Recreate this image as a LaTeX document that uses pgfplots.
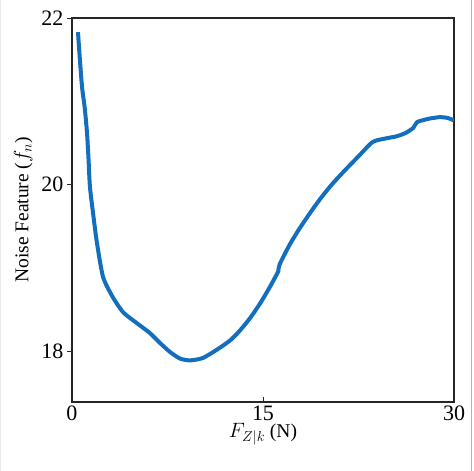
\documentclass[border=0pt]{standalone}
\usepackage{fontspec}
\setmainfont{Liberation Serif}
\usepackage{pgfplots}
\pgfplotsset{compat=1.18}
\definecolor{curveblue}{RGB}{20,110,190}
\begin{document}
\begin{tikzpicture}[x=1pt,y=1pt]
\begin{axis}[
  name=ax,
  at={(0,0)}, anchor=south west,
  scale only axis,
  width=382pt, height=384pt,
  xmin=0, xmax=30,
  ymin=17.39, ymax=22,
  xtick={0,15,30},
  ytick={18,20,22},
  axis line style={line width=1.6pt, black!85},
  tick style={black!85, line width=0.8pt},
  major tick length=5pt,
  xtick pos=bottom, ytick pos=left,
  ytick align=outside, xtick align=inside,
  /pgf/number format/assume math mode=true,
  tick label style={font=\fontsize{22}{26}\selectfont},
  label style={font=\fontsize{19.5}{23}\selectfont},
  xlabel={$F_{Z|k}$ (N)},
  ylabel={Noise Feature ($f_n$)},
  xlabel style={yshift=4pt},
  ylabel style={yshift=2pt},
  clip=true,
]
\addplot[curveblue, line width=4pt, smooth, tension=0.4] coordinates {
 (0.47,21.83) (0.62,21.5) (0.79,21.17) (1.0,20.92) (1.18,20.62) (1.3,20.3)
 (1.41,19.97) (1.7,19.6) (1.96,19.3) (2.44,18.89) (3.2,18.65) (4.0,18.47)
 (4.8,18.37) (6.1,18.22)
 (6.9,18.1) (7.7,17.99) (8.5,17.91) (9.3,17.89) (10.3,17.92) (11.6,18.04)
 (12.5,18.14) (13.2,18.25) (14.0,18.4) (14.8,18.58) (15.5,18.76) (16.0,18.9)
 (16.2,18.96) (16.3,19.04) (17.1,19.28) (17.9,19.48) (18.7,19.66) (19.5,19.83)
 (20.4,20.0) (21.3,20.15) (22.5,20.34) (23.6,20.51) (24.5,20.55) (25.5,20.58)
 (26.2,20.62) (26.8,20.68) (27.1,20.75) (28.0,20.79) (28.9,20.81) (29.5,20.8) (30,20.77)
};
\end{axis}
\useasboundingbox (-72,-69) rectangle (402,402);
\draw[black!30, line width=1.2pt] (399.5,-69) -- (399.5,402);
\draw[black!8, line width=1.2pt] (-71.5,-69) -- (-71.5,402);
\end{tikzpicture}
\end{document}
